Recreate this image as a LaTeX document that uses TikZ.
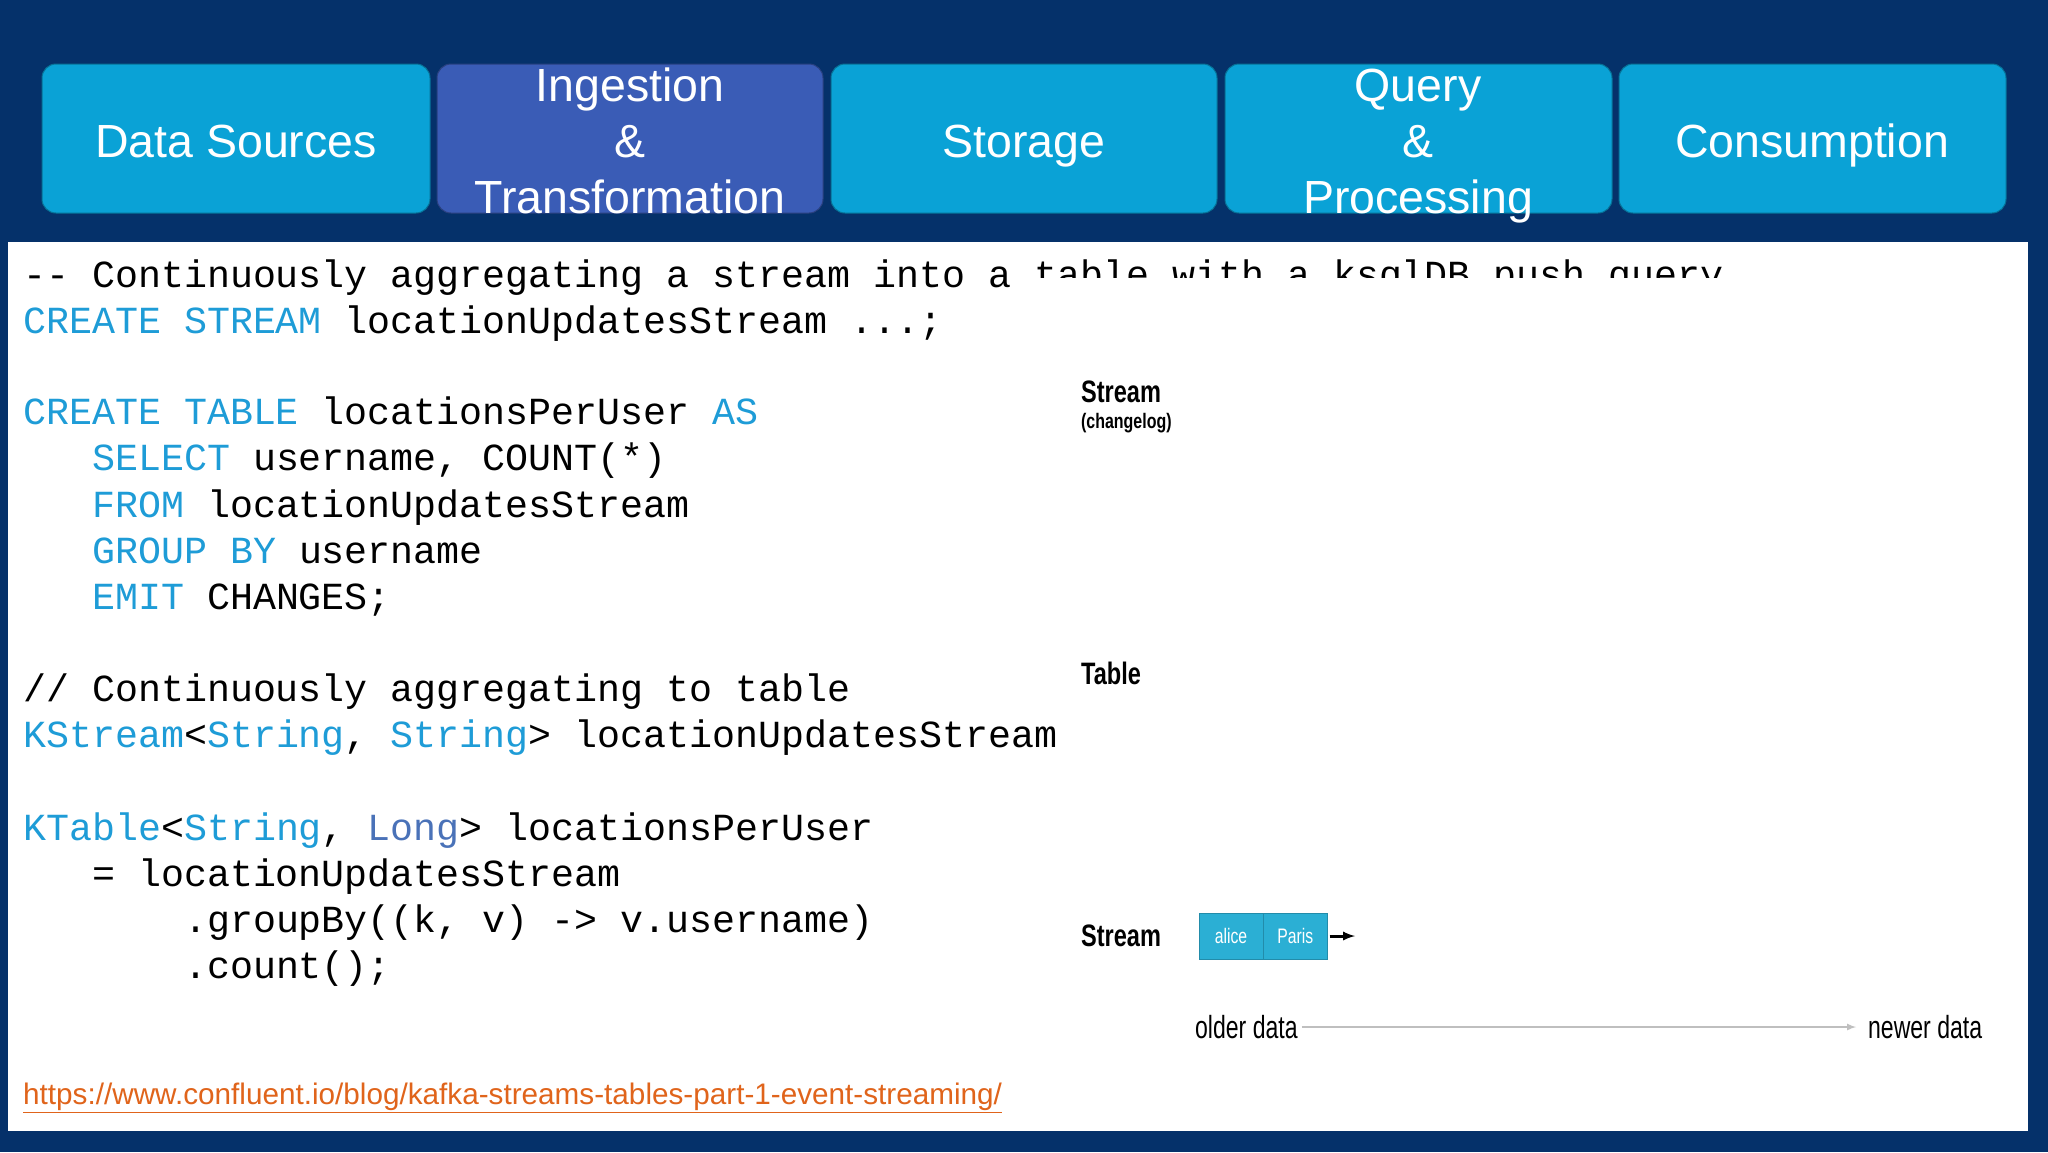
\documentclass[tikz,border=0pt]{standalone}
\usepackage{fontspec}
\setmainfont{Liberation Sans}
\newfontfamily\codefont{Liberation Mono}
\begin{document}
\begin{tikzpicture}[x=1pt,y=-1pt,
  tab/.style={rounded corners=14pt,fill=tabblue,draw=tabblue!70!black,line width=1pt},
  tabtxt/.style={text=white,font=\fontsize{46.5}{56}\selectfont,align=center},
  code/.style={anchor=base west,inner sep=0pt,font=\codefont\fontsize{38.3}{46}\selectfont},
  lbl/.style={anchor=west,inner sep=0pt,font=\bfseries\fontsize{31}{34}\selectfont,xscale=0.76,transform shape},
  axis/.style={anchor=west,inner sep=0pt,font=\fontsize{32}{36}\selectfont,xscale=0.72,transform shape}]
\definecolor{navy}{HTML}{05316A}
\definecolor{tabblue}{HTML}{0AA2D6}
\definecolor{tabpurple}{HTML}{3A5CB6}
\definecolor{kw}{HTML}{1E9CD7}
\definecolor{kw2}{HTML}{4A72B8}
\definecolor{url}{HTML}{E0641B}
\definecolor{cell}{HTML}{2BAFD4}
\newcommand{\kwd}[1]{\textcolor{kw}{#1}}
\useasboundingbox (0,0) rectangle (2048,1152);
\fill[navy] (0,0) rectangle (2048,1152);
% tabs
\draw[tab] (42,64) rectangle (430,213); \node[tabtxt,anchor=base] (t1) at (236,157) {Data Sources};
\draw[tab,fill=tabpurple,draw=tabpurple!70!black] (437,64) rectangle (823,213); \node[tabtxt,anchor=base] (t2) at (630,213) {Ingestion\\\&\\Transformation};
\draw[tab] (831,64) rectangle (1217,213); \node[tabtxt,anchor=base] (t3) at (1024,157) {Storage};
\draw[tab] (1225,64) rectangle (1612,213); \node[tabtxt,anchor=base] (t4) at (1418,213) {Query\\\&\\Processing};
\draw[tab] (1619,64) rectangle (2006,213); \node[tabtxt,anchor=base] (t5) at (1812,157) {Consumption};
% panel
\fill[white] (8,242) rectangle (2028,1131);
% first line clipped
\begin{scope}
\clip (0,240) rectangle (1030,300) (1030,240) rectangle (1800,277);
\node[code] (c0) at (23,287) {-- Continuously aggregating a stream into a table with a ksqlDB push query};
\end{scope}
\node[code] (c1) at (23,333) {\kwd{CREATE STREAM} locationUpdatesStream ...;};
\node[code] (c2) at (23,424) {\kwd{CREATE TABLE} locationsPerUser \kwd{AS}};
\node[code] (c3) at (23,470) {\phantom{xxx}\kwd{SELECT} username, COUNT(*)};
\node[code] (c4) at (23,517) {\phantom{xxx}\kwd{FROM} locationUpdatesStream};
\node[code] (c5) at (23,563) {\phantom{xxx}\kwd{GROUP BY} username};
\node[code] (c6) at (23,609) {\phantom{xxx}\kwd{EMIT} CHANGES;};
\node[code] (c7) at (23,701) {// Continuously aggregating to table};
\node[code] (c8) at (23,747) {\kwd{KStream}<\kwd{String}, \kwd{String}> locationUpdatesStream};
\node[code] (c9) at (23,840) {\kwd{KTable}<\kwd{String}, \textcolor{kw2}{Long}> locationsPerUser};
\node[code] (c10) at (23,886) {\phantom{xxx}= locationUpdatesStream};
\node[code] (c11) at (23,932) {\phantom{xxxxxxx}.groupBy((k, v) -> v.username)};
\node[code] (c12) at (23,978) {\phantom{xxxxxxx}.count();};
% right diagram
\node[lbl] (s1) at (1081,392) {Stream};
\node[lbl,font=\bfseries\fontsize{21}{24}\selectfont] (s1b) at (1081,423) {(changelog)};
\node[lbl] (tb) at (1081,673) {Table};
\node[lbl] (s2) at (1081,936) {Stream};
\node[draw=cell!80!black,fill=cell,minimum width=64pt,minimum height=46pt,inner sep=0pt,text=white,font=\fontsize{21}{24}\selectfont] (ca) at (1231,936) {\scalebox{0.75}[1]{alice}};
\node[draw=cell!80!black,fill=cell,minimum width=64pt,minimum height=46pt,inner sep=0pt,text=white,font=\fontsize{21}{24}\selectfont,anchor=west] (cp) at (ca.east) {\scalebox{0.75}[1]{Paris}};
\coordinate (ae) at (1355,936);
\draw[line width=3pt,-latex] (cp.east)++(2,0) -- (ae);
\node[axis] (old) at (1195,1027) {older data};
\node[axis] (new) at (1868,1027) {newer data};
\draw[gray!50,line width=2pt,-latex] (old.east)++(4,0) -- ([xshift=-12pt]new.west);
\node[anchor=west,inner sep=0pt,text=url,font=\fontsize{29.7}{32}\selectfont] (u) at (23,1098) {\underline{https://www.confluent.io/blog/kafka-streams-tables-part-1-event-streaming/}};
\end{tikzpicture}
\end{document}
